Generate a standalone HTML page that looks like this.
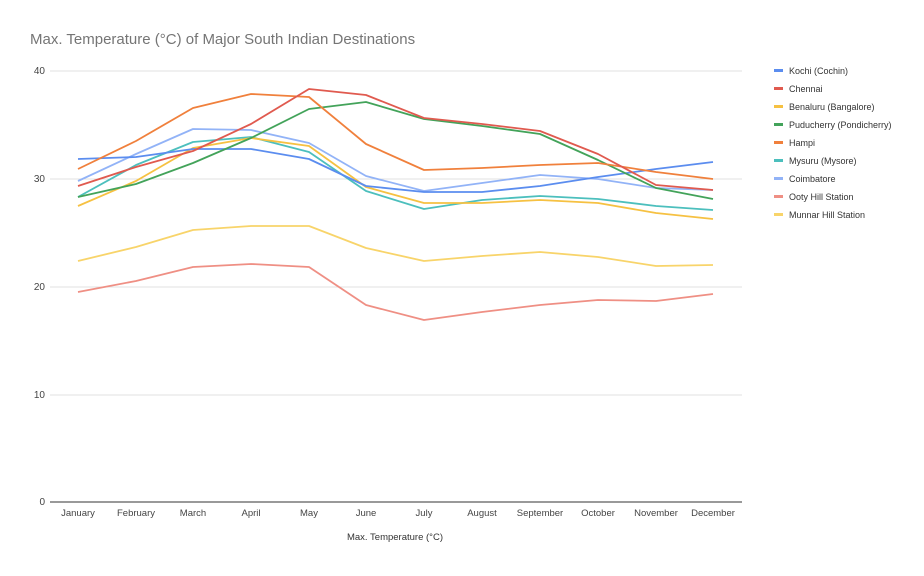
<!DOCTYPE html><html><head><style>body{margin:0;background:#fff}svg text{font-family:"Liberation Sans",sans-serif}</style></head><body>
<svg width="924" height="571" xmlns="http://www.w3.org/2000/svg">
<text x="30" y="44" font-size="15" fill="#757575">Max. Temperature (°C) of Major South Indian Destinations</text>
<g stroke="#e0e0e0" stroke-width="1"><line x1="50" x2="742" y1="71" y2="71"/><line x1="50" x2="742" y1="179" y2="179"/><line x1="50" x2="742" y1="287" y2="287"/><line x1="50" x2="742" y1="395" y2="395"/></g>
<line x1="50" x2="742" y1="502" y2="502" stroke="#333" stroke-width="1"/>
<g font-size="10" fill="#444" text-anchor="end"><text x="45" y="74">40</text><text x="45" y="182">30</text><text x="45" y="290">20</text><text x="45" y="398">10</text><text x="45" y="505">0</text></g>
<g font-size="9.5" fill="#444" text-anchor="middle"><text x="78" y="516">January</text><text x="136" y="516">February</text><text x="193" y="516">March</text><text x="251" y="516">April</text><text x="309" y="516">May</text><text x="366" y="516">June</text><text x="424" y="516">July</text><text x="482" y="516">August</text><text x="540" y="516">September</text><text x="598" y="516">October</text><text x="656" y="516">November</text><text x="713" y="516">December</text></g>
<text x="395" y="540" font-size="9.5" fill="#333" text-anchor="middle">Max. Temperature (°C)</text>
<g fill="none" stroke-width="1.8" stroke-linejoin="round">
<polyline stroke="#ef8f84" points="78,292 136,281 193,267 251,264 309,267 366,305 424,320 482,312 540,305 598,300 656,301 713,294"/>
<polyline stroke="#f8d46a" points="78,261 136,247 193,230 251,226 309,226 366,248 424,261 482,256 540,252 598,257 656,266 713,265"/>
<polyline stroke="#92b3f7" points="78,181 136,154 193,129 251,130 309,143 366,176 424,191 482,183 540,175 598,179 656,188 713,190"/>
<polyline stroke="#4cbfbd" points="78,197 136,165 193,142 251,137 309,152 366,191 424,209 482,200 540,196 598,199 656,206 713,210"/>
<polyline stroke="#f6c142" points="78,206 136,181 193,148 251,138 309,146 366,187 424,203 482,203 540,200 598,203 656,213 713,219"/>
<polyline stroke="#5b8def" points="78,159 136,157 193,149 251,149 309,159 366,186 424,192 482,192 540,186 598,177 656,169 713,162"/>
<polyline stroke="#43a35a" points="78,197 136,184 193,163 251,138 309,109 366,102 424,119 482,126 540,134 598,160 656,188 713,199"/>
<polyline stroke="#f0803c" points="78,169 136,141 193,108 251,94 309,97 366,144 424,170 482,168 540,165 598,163 656,172 713,179"/>
<polyline stroke="#e05a4f" points="78,186 136,167 193,151 251,124 309,89 366,95 424,118 482,124 540,131 598,154 656,185 713,190"/>
</g>
<g font-size="9" fill="#333">
<rect x="774" y="69" width="9" height="3" fill="#5b8def"/><text x="789" y="74">Kochi (Cochin)</text>
<rect x="774" y="87" width="9" height="3" fill="#e05a4f"/><text x="789" y="92">Chennai</text>
<rect x="774" y="105" width="9" height="3" fill="#f6c142"/><text x="789" y="110">Benaluru (Bangalore)</text>
<rect x="774" y="123" width="9" height="3" fill="#43a35a"/><text x="789" y="128">Puducherry (Pondicherry)</text>
<rect x="774" y="141" width="9" height="3" fill="#f0803c"/><text x="789" y="146">Hampi</text>
<rect x="774" y="159" width="9" height="3" fill="#4cbfbd"/><text x="789" y="164">Mysuru (Mysore)</text>
<rect x="774" y="177" width="9" height="3" fill="#92b3f7"/><text x="789" y="182">Coimbatore</text>
<rect x="774" y="195" width="9" height="3" fill="#ef8f84"/><text x="789" y="200">Ooty Hill Station</text>
<rect x="774" y="213" width="9" height="3" fill="#f8d46a"/><text x="789" y="218">Munnar Hill Station</text>
</g>
</svg></body></html>
